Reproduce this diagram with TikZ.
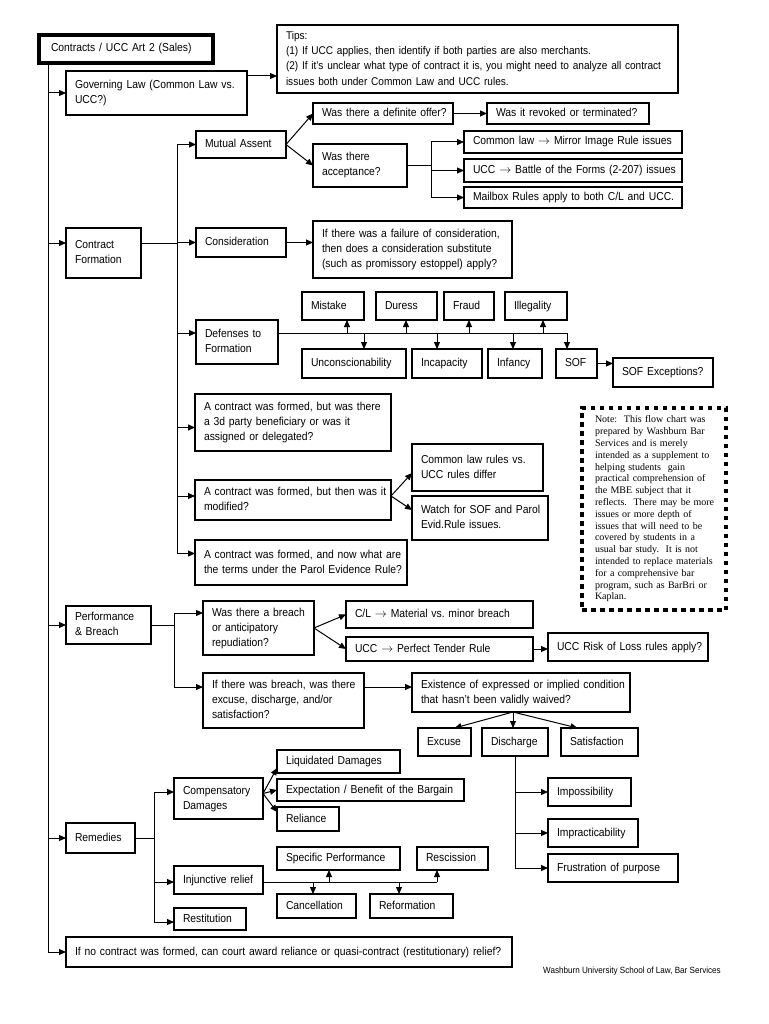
\documentclass[tikz,border=0pt]{standalone}
\usepackage{fontspec}
\setmainfont{Liberation Sans}[FakeStretch=0.9]
\newfontfamily\tipsfont{Liberation Sans}[FakeStretch=0.9]
\newfontfamily\notefont{Liberation Serif}
\usetikzlibrary{arrows.meta,calc}
\frenchspacing
\tikzset{
  box/.style={draw, line width=1.2pt, align=left, inner xsep=9pt, inner ysep=0pt, outer sep=0pt,
    font=\fontsize{11.5}{15}\selectfont},
  arr/.style={line width=1pt, -{Triangle[length=7pt,width=6pt]}},
  ln/.style={line width=1pt},
}
\newcommand\bx[7][]{%
  \pgfmathsetmacro\bw{#5-#3}%
  \pgfmathsetmacro\bh{#6-#4}%
  \pgfmathsetmacro\tw{#5-#3-18}%
  \node[box,minimum width=\bw pt,minimum height=\bh pt,text width=\tw pt,anchor=north west,#1] (#2) at (#3,#4)
    {\begin{tabular}{@{}l@{}}#7\end{tabular}};}
\begin{document}
\begin{tikzpicture}[x=1pt,y=-1pt]
\useasboundingbox (0,0) rectangle (768,1024);
\fill[white] (0,0) rectangle (768,1024);

% ---------- boxes ----------
\bx[line width=3.5pt]{main}{39}{35}{213}{63}{\hspace*{3pt}Contracts / UCC Art 2 (Sales)}
\bx{gov}{66}{71}{247}{115}{Governing Law (Common Law vs.\\UCC?)}
\bx[font=\tipsfont\fontsize{11.2}{15.3}\selectfont]{tips}{277}{25}{678}{93}{Tips:\\(1) If UCC applies, then identify if both parties are also merchants.\\(2) If it’s unclear what type of contract it is, you might need to analyze all contract\\issues both under Common Law and UCC rules.}
\bx{ma}{196}{131}{286}{158}{Mutual Assent}
\bx{offer}{313}{103}{453}{124}{Was there a definite offer?}
\bx{revoked}{487}{103}{649}{124}{Was it revoked or terminated?}
\bx{accept}{313}{144}{407}{187}{Was there\\acceptance?}
\bx{mirror}{464}{131}{682}{153}{Common law $\rightarrow$ Mirror Image Rule issues}
\bx{battle}{464}{159}{682}{182}{UCC $\rightarrow$ Battle of the Forms (2-207) issues}
\bx{mailbox}{464}{187}{682}{208}{Mailbox Rules apply to both C/L and UCC.}
\bx{cf}{66}{228}{141}{278}{Contract\\Formation}
\bx{cons}{196}{228}{286}{257}{Consideration}
\bx{constext}{313}{221}{512}{278}{If there was a failure of consideration,\\then does a consideration substitute\\(such as promissory estoppel) apply?}
\bx{def}{196}{320}{278}{364}{Defenses to\\Formation}
\bx{mistake}{302}{292}{364}{320}{Mistake}
\bx{duress}{376}{292}{437}{320}{Duress}
\bx{fraud}{444}{292}{494}{320}{Fraud}
\bx{illegal}{505}{292}{567}{320}{Illegality}
\bx{uncon}{302}{349}{406}{378}{Unconscionability}
\bx{incap}{412}{349}{482}{378}{Incapacity}
\bx{infancy}{488}{349}{542}{378}{Infancy}
\bx{sof}{556}{349}{597}{378}{SOF}
\bx{sofex}{613}{358}{713}{387}{SOF Exceptions?}
\bx{third}{195}{394}{391}{451}{A contract was formed, but was there\\a 3d party beneficiary or was it\\assigned or delegated?}
\bx{modif}{195}{480}{391}{520}{A contract was formed, but then was it\\modified?}
\bx{parol}{195}{540}{407}{585}{A contract was formed, and now what are\\the terms under the Parol Evidence Rule?}
\bx{clrules}{412}{444}{543}{491}{Common law rules vs.\\UCC rules differ}
\bx{watch}{412}{496}{548}{540}{Watch for SOF and Parol\\Evid.Rule issues.}

\node[draw, line width=4pt, dash pattern=on 4.5pt off 4.5pt, minimum width=144pt, minimum height=202pt,
  text width=118pt, inner xsep=13pt, inner ysep=0pt, outer sep=0pt, anchor=north west, align=left,
  font=\notefont\fontsize{10}{11.8}\selectfont] (note) at (582,408)
  {\begin{tabular}{@{}l@{}}Note:\ \ This flow chart was\\prepared by Washburn Bar\\Services and is merely\\intended as a supplement to\\helping students\ \ gain\\practical comprehension of\\the MBE subject that it\\reflects.\ \ There may be more\\issues or more depth of\\issues that will need to be\\covered by students in a\\usual bar study.\ \ It is not\\intended to replace materials\\for a comprehensive bar\\program, such as BarBri or\\Kaplan.\end{tabular}};

\bx{pb}{66}{606}{151}{644}{Performance\\\& Breach}
\bx{breach}{203}{601}{314}{655}{Was there a breach\\or anticipatory\\repudiation?}
\bx{ifbreach}{203}{673}{364}{728}{If there was breach, was there\\excuse, discharge, and/or\\satisfaction?}
\bx{material}{346}{601}{533}{628}{C/L $\rightarrow$ Material vs. minor breach}
\bx{tender}{346}{637}{533}{661}{UCC $\rightarrow$ Perfect Tender Rule}
\bx{risk}{548}{633}{708}{661}{UCC Risk of Loss rules apply?}
\bx{exist}{412}{673}{630}{712}{Existence of expressed or implied condition\\that hasn’t been validly waived?}
\bx{excuse}{418}{728}{471}{756}{Excuse}
\bx{discharge}{482}{728}{548}{756}{Discharge}
\bx{satis}{561}{728}{638}{756}{Satisfaction}
\bx{imposs}{548}{778}{631}{806}{Impossibility}
\bx{imprac}{548}{819}{638}{847}{Impracticability}
\bx{frust}{548}{854}{678}{882}{Frustration of purpose}

\bx{rem}{66}{823}{135}{853}{Remedies}
\bx{comp}{174}{778}{263}{819}{Compensatory\\Damages}
\bx{liq}{277}{750}{400}{773}{Liquidated Damages}
\bx{expect}{277}{779}{464}{801}{Expectation / Benefit of the Bargain}
\bx{reliance}{277}{807}{339}{831}{Reliance}
\bx{inj}{174}{866}{263}{894}{Injunctive relief}
\bx{specific}{277}{847}{400}{870}{Specific Performance}
\bx{resc}{417}{847}{488}{870}{Rescission}
\bx{cancel}{277}{894}{356}{918}{Cancellation}
\bx{reform}{370}{894}{453}{918}{Reformation}
\bx{restit}{174}{908}{246}{930}{Restitution}
\bx{nocon}{66}{937}{512}{967}{If no contract was formed, can court award reliance or quasi-contract (restitutionary) relief?}

\node[font=\fontsize{9}{11}\selectfont, inner sep=0pt] (foot) at (632,971) {Washburn University School of Law, Bar Services};

% ---------- connectors ----------
% main trunk
\coordinate (tk) at (48,0);
\draw[ln] (main.south -| tk) -- (nocon.west -| tk);
\draw[arr] (gov.west -| tk) -- (gov.west);
\draw[arr] ([yshift=10pt]cf.west -| tk) -- ([yshift=10pt]cf.west);
\draw[arr] (pb.west -| tk) -- (pb.west);
\draw[arr] (rem.west -| tk) -- (rem.west);
\draw[arr] (nocon.west -| tk) -- (nocon.west);
\draw[arr] ([yshift=17pt]gov.east) -- ([yshift=17pt]gov.east -| tips.west);

% contract formation
\coordinate (j1) at (177,0);
\draw[ln] ([yshift=10pt]cf.east) -- ([yshift=10pt]cf.east -| j1);
\draw[ln] (ma.west -| j1) -- ([yshift=9pt]parol.west -| j1);
\draw[arr] (ma.west -| j1) -- (ma.west);
\draw[arr] (cons.west -| j1) -- (cons.west);
\draw[arr] ([yshift=9pt]def.west -| j1) -- ([yshift=9pt]def.west);
\draw[arr] ([yshift=-5pt]third.west -| j1) -- ([yshift=-5pt]third.west);
\draw[arr] ([yshift=4pt]modif.west -| j1) -- ([yshift=4pt]modif.west);
\draw[arr] ([yshift=9pt]parol.west -| j1) -- ([yshift=9pt]parol.west);

% mutual assent
\draw[arr] (ma.east) -- (offer.west);
\draw[arr] (ma.east) -- (accept.west);
\draw[arr] (offer.east) -- (revoked.west);
\coordinate (j2) at (431,0);
\draw[ln] (accept.east) -- (accept.east -| j2);
\draw[ln] (mirror.west -| j2) -- (mailbox.west -| j2);
\draw[arr] (mirror.west -| j2) -- (mirror.west);
\draw[arr] (battle.west -| j2) -- (battle.west);
\draw[arr] (mailbox.west -| j2) -- (mailbox.west);

% consideration
\draw[arr] (cons.east) -- (cons.east -| constext.west);

% defenses
\coordinate (d1) at (347,0);
\coordinate (d2) at (406,0);
\coordinate (d3) at (469,0);
\coordinate (d4) at (543,0);
\coordinate (e1) at (364,0);
\coordinate (e2) at (437,0);
\coordinate (e3) at (513,0);
\coordinate (e4) at (567,0);
\draw[ln] ([yshift=9pt]def.east) -- ([yshift=9pt]def.east -| e4);
\draw[arr] ([yshift=9pt]def.east -| d1) -- (d1 |- mistake.south);
\draw[arr] ([yshift=9pt]def.east -| d2) -- (d2 |- duress.south);
\draw[arr] ([yshift=9pt]def.east -| d3) -- (d3 |- fraud.south);
\draw[arr] ([yshift=9pt]def.east -| d4) -- (d4 |- illegal.south);
\draw[arr] ([yshift=9pt]def.east -| e1) -- (e1 |- uncon.north);
\draw[arr] ([yshift=9pt]def.east -| e2) -- (e2 |- incap.north);
\draw[arr] ([yshift=9pt]def.east -| e3) -- (e3 |- infancy.north);
\draw[arr] ([yshift=9pt]def.east -| e4) -- (e4 |- sof.north);
\draw[arr] (sof.east) -- (sof.east -| sofex.west);

% modified
\draw[arr] ([yshift=4pt]modif.east) -- ([yshift=-5.5pt]clrules.west);
\draw[arr] ([yshift=4pt]modif.east) -- ([yshift=8pt]watch.west);

% performance & breach
\coordinate (j3) at (174,0);
\draw[ln] (pb.east) -- (pb.east -| j3);
\draw[ln] ([yshift=15pt]breach.west -| j3) -- ([yshift=13.5pt]ifbreach.west -| j3);
\draw[arr] ([yshift=15pt]breach.west -| j3) -- ([yshift=15pt]breach.west);
\draw[arr] ([yshift=13.5pt]ifbreach.west -| j3) -- ([yshift=13.5pt]ifbreach.west);
\draw[arr] (breach.east) -- (material.west);
\draw[arr] (breach.east) -- (tender.west);
\draw[arr] (tender.east) -- (tender.east -| risk.west);
\draw[arr] ([yshift=13.5pt]ifbreach.east) -- ([yshift=13.5pt]ifbreach.east -| exist.west);
\draw[arr] ([xshift=-8pt]exist.south) -- ([xshift=10pt]excuse.north);
\draw[arr] ([xshift=-8pt]exist.south) -- ([xshift=-8pt]exist.south |- discharge.north);
\draw[arr] ([xshift=-8pt]exist.south) -- ([xshift=-22pt]satis.north);
\draw[ln] (discharge.south) -- (frust.west -| discharge.south);
\draw[arr] (imposs.west -| discharge.south) -- (imposs.west);
\draw[arr] (imprac.west -| discharge.south) -- (imprac.west);
\draw[arr] (frust.west -| discharge.south) -- (frust.west);

% remedies
\coordinate (j4) at (154,0);
\draw[ln] (rem.east) -- (rem.east -| j4);
\draw[ln] ([yshift=6.5pt]comp.west -| j4) -- ([yshift=-3pt]restit.west -| j4);
\draw[arr] ([yshift=6.5pt]comp.west -| j4) -- ([yshift=6.5pt]comp.west);
\draw[arr] ([yshift=-2pt]inj.west -| j4) -- ([yshift=-2pt]inj.west);
\draw[arr] ([yshift=-3pt]restit.west -| j4) -- ([yshift=-3pt]restit.west);
\draw[arr] ([yshift=5pt]comp.east) -- ([yshift=-6.5pt]liq.west);
\draw[arr] ([yshift=5pt]comp.east) -- (expect.west);
\draw[arr] ([yshift=5pt]comp.east) -- ([yshift=7pt]reliance.west);
\coordinate (i1) at (313,0);
\coordinate (i2) at (329,0);
\coordinate (i3) at (399,0);
\coordinate (i4) at (437,0);
\draw[ln] ([yshift=-2pt]inj.east) -- ([yshift=-2pt]inj.east -| i4);
\draw[arr] ([yshift=-2pt]inj.east -| i1) -- (i1 |- cancel.north);
\draw[arr] ([yshift=-2pt]inj.east -| i2) -- (i2 |- specific.south);
\draw[arr] ([yshift=-2pt]inj.east -| i3) -- (i3 |- reform.north);
\draw[arr] ([yshift=-2pt]inj.east -| i4) -- (i4 |- resc.south);
\end{tikzpicture}
\end{document}
